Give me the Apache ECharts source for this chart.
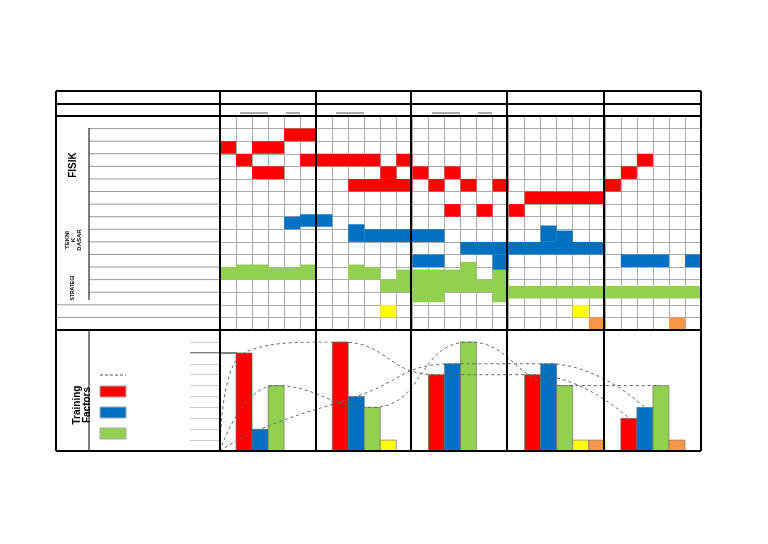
<!DOCTYPE html>
<html><head><meta charset="utf-8">
<script src="https://cdn.jsdelivr.net/npm/echarts@6/dist/echarts.min.js"></script>
<style>html,body{margin:0;background:#fff}#c{width:768px;height:544px}</style>
</head><body><div id="c"></div>
<script>
// cell runs: [column, row, columns, rows]
var redRuns = [[4,1,2,1],[0,2,1,1],[2,2,2,1],[1,3,1,1],[5,3,5,1],[11,3,1,1],[26,3,1,1],[2,4,2,1],[10,4,1,1],[12,4,1,1],[14,4,1,1],[25,4,1,1],
  [8,5,4,1],[13,5,1,1],[15,5,1,1],[17,5,1,1],[24,5,1,1],[19,6,5,1],[14,7,1,1],[16,7,1,1],[18,7,1,1]];
var blueRuns = [[4,8,1,1],[5,7.8,2,1],[8,8.6,1,1.4],[9,9,5,1],[20,8.7,1,1.3],[21,9.1,1,1],[15,10,9,1],[12,11,2,1],[17,11,1,1.4],[25,11,3,1],[29,11,1,1]];
var greenRuns = [[0,12,1,1],[1,11.8,2,1.2],[3,12,2,1],[5,11.8,1,1.2],[8,11.8,1,1.2],[9,12,1,1],[10,13,1,1],[11,12.2,1,1.8],[12,12.2,2,2.6],
  [14,12.2,1,1.8],[15,11.6,1,2.4],[16,13,1,1],[17,12.2,1,2.6],[18,13.5,12,1]];
var yellowRuns = [[10,15,1,1],[22,15,1,1]];
var orangeRuns = [[23,16,1,1],[28,16,1,1]];

// training factor bars: [column, value]
var redBars = [[1,9],[7,10],[13,7],[19,7],[25,3]];
var blueBars = [[2,2],[8,5],[14,8],[20,8],[26,4]];
var greenBars = [[3,6],[9,4],[15,10],[21,6],[27,6]];
var yellowBars = [[10,1],[22,1]];
var orangeBars = [[23,1],[28,1]];

// dashed trend curves
var redCurve = [[0,0],[1.5,9],[7.5,10],[13.5,7],[19.5,7],[25.5,3]];
var blueCurve = [[0,0],[2.5,2],[8.5,5],[14.5,8],[20.5,8],[26.5,4]];
var greenCurve = [[0,0],[3.5,6],[9.5,4],[15.5,10],[21.5,6],[27.5,6]];

var colors = { r: '#ff0000', b: '#0070c0', g: '#92d050', y: '#ffff00', o: '#f79646' };

function tag(list, c) { return list.map(function (d) { return d.concat([c]); }); }
var cells = [].concat(tag(redRuns,'r'), tag(blueRuns,'b'), tag(greenRuns,'g'), tag(yellowRuns,'y'), tag(orangeRuns,'o'));
var bars = [].concat(tag(redBars,'r'), tag(blueBars,'b'), tag(greenBars,'g'), tag(yellowBars,'y'), tag(orangeBars,'o'));

var X0 = 220, X1 = 701, TOP = 116, ROWS = 17, RH = (330 - 116) / 17;
var g = [];
function ln(x1, y1, x2, y2, w, c) { g.push({ type: 'line', shape: { x1: x1, y1: y1, x2: x2, y2: y2 }, style: { stroke: c || '#000', lineWidth: w }, z: 10 }); }
// left-side row lines
for (var i = 1; i < ROWS; i++) { var yy = TOP + i * RH; ln(i < 1 ? 56 : (i >= 1 && i <= 14 ? 89 : 56), yy, X0, yy, 1, '#999'); }
ln(89, 128, 89, 300, 1);
ln(89, 330, 89, 451, 1);
// frame
[91, 104, 116, 330, 451].forEach(function (y) { ln(56, y, X1, y, 2); });
[56, 220, 316, 411, 507, 604, 701].forEach(function (x) { ln(x, 91, x, 451, 2); });
// header underlines
[[240,268],[286,300],[336,364],[432,460],[478,492]].forEach(function (s) { ln(s[0], 113, s[1], 113, 1, '#555'); });
// legend swatches
g.push({ type: 'line', shape: { x1: 100, y1: 375, x2: 126, y2: 375 }, style: { stroke: '#555', lineWidth: 1, lineDash: [3, 2] } });
[['r',386],['b',407],['g',428]].forEach(function (s) {
  g.push({ type: 'rect', shape: { x: 100, y: s[1], width: 26, height: 11 }, style: { fill: colors[s[0]], stroke: '#aaa' } });
});
function vtext(x, y, t, size) {
  g.push({ type: 'text', x: x, y: y, rotation: Math.PI / 2, style: { text: t, font: 'bold ' + size + 'px Arial', fill: '#000', align: 'center', verticalAlign: 'middle' }, z: 11 });
}
vtext(73, 165, 'FISIK', 10);
vtext(73, 240, 'TEKNI\nK\nDASAR', 6);
vtext(73, 288, 'STRATEGI', 5);
vtext(82, 405, 'Training\nFactors', 10);

var chart = echarts.init(document.getElementById('c'));
function rectItem(params, api) {
  var c = api.value(0), r = api.value(1), n = api.value(2), h = api.value(3);
  var p0 = api.coord([c, r]), p1 = api.coord([c + n, r + h]);
  return { type: 'rect', shape: { x: p0[0], y: p0[1], width: p1[0] - p0[0], height: p1[1] - p0[1] }, style: { fill: colors[api.value(4)] } };
}
function barItem(params, api) {
  var c = api.value(0), v = api.value(1);
  var p0 = api.coord([c, v]), p1 = api.coord([c + 1, 0]);
  return { type: 'rect', shape: { x: p0[0], y: p0[1], width: p1[0] - p0[0], height: p1[1] - p0[1] }, style: { fill: colors[api.value(2)], stroke: '#666', lineWidth: 0.6 } };
}
var dash = { color: '#666', type: [3, 3], width: 1 };
chart.setOption({
  animation: false,
  grid: [
    { left: X0, top: TOP, width: X1 - X0, height: 330 - TOP },
    { left: X0, top: 342, width: X1 - X0, height: 109 }
  ],
  xAxis: [
    { gridIndex: 0, type: 'value', min: 0, max: 30, interval: 1, axisLabel: { show: false }, axisTick: { show: false }, axisLine: { show: false },
      splitLine: { lineStyle: { color: '#aaa', width: 1 } } },
    { gridIndex: 1, type: 'value', min: 0, max: 30, show: false }
  ],
  yAxis: [
    { gridIndex: 0, type: 'value', min: 0, max: ROWS, interval: 1, inverse: true, axisLabel: { show: false }, axisTick: { show: false }, axisLine: { show: false },
      splitLine: { lineStyle: { color: '#aaa', width: 1 } } },
    { gridIndex: 1, type: 'value', min: 0, max: 10, interval: 1, axisLabel: { show: false }, axisLine: { show: false },
      axisTick: { show: true, inside: false, length: 30, lineStyle: { color: '#ccc' } }, splitLine: { show: false } }
  ],
  series: [
    { type: 'custom', xAxisIndex: 0, yAxisIndex: 0, renderItem: rectItem, data: cells },
    { type: 'custom', xAxisIndex: 1, yAxisIndex: 1, renderItem: barItem, data: bars, z: 3 },
    { type: 'line', xAxisIndex: 1, yAxisIndex: 1, smooth: true, symbol: 'none', lineStyle: dash, data: redCurve, z: 4 },
    { type: 'line', xAxisIndex: 1, yAxisIndex: 1, smooth: true, symbol: 'none', lineStyle: dash, data: blueCurve, z: 4 },
    { type: 'line', xAxisIndex: 1, yAxisIndex: 1, smooth: true, symbol: 'none', lineStyle: dash, data: greenCurve, z: 4 }
  ],
  graphic: g.concat([{ type: 'line', shape: { x1: 190, y1: 353, x2: 237, y2: 353 }, style: { stroke: '#000', lineWidth: 1 } }])
});
</script></body></html>
